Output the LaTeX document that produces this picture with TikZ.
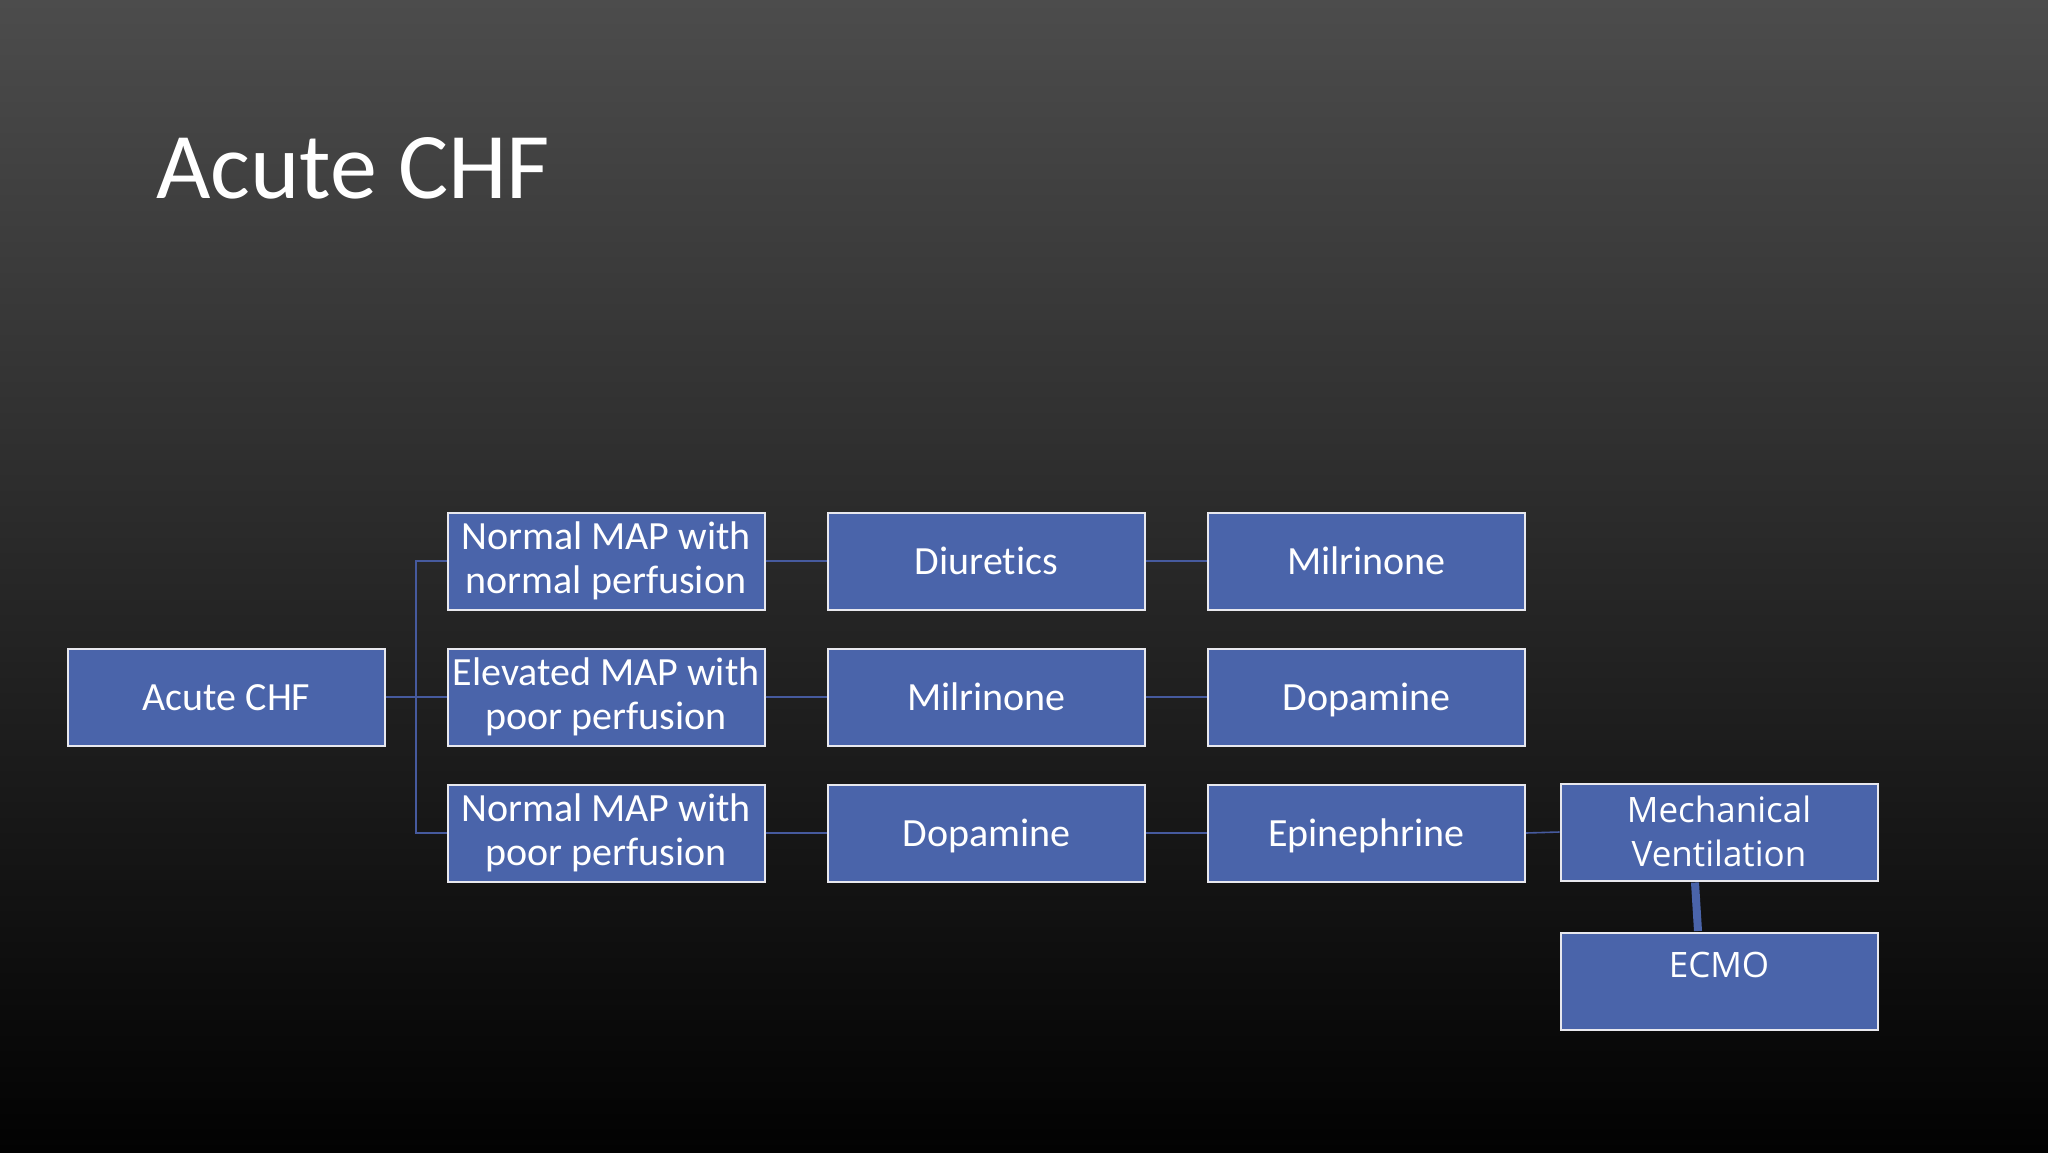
\documentclass[tikz,border=0pt]{standalone}
\usepackage{fontspec}
\setmainfont{Carlito}[RawFeature=-liga]
\newfontfamily\segoe{Open Sans}
\begin{document}
\begin{tikzpicture}[x=1pt,y=-1pt,
  boxfill/.style={fill={rgb,255:red,74;green,100;blue,170},
    draw={rgb,255:red,232;green,232;blue,238}, line width=2pt,
    minimum width=317pt, minimum height=97pt, inner sep=0pt,
    align=center, text=white, text height=26pt, text depth=0pt,
    font=\fontsize{40}{44}\selectfont},
  twoline/.style={text height=64pt, text depth=0pt},
  sboxfill/.style={boxfill, font=\segoe\fontsize{35}{44}\selectfont},
  conn/.style={draw={rgb,255:red,70;green,90;blue,158}, line width=1.6pt},
  thick conn/.style={draw={rgb,255:red,74;green,100;blue,170}, line width=8pt}
]
\useasboundingbox (0,0) rectangle (2048,1152);
\shade[top color={rgb,255:red,76;green,76;blue,76}, middle color={rgb,255:red,32;green,32;blue,32}, bottom color={rgb,255:red,2;green,2;blue,2}] (0,0) rectangle (2048,1152);

\node[anchor=base west, text=white, font=\fontsize{94}{100}\selectfont, inner sep=0pt] (title) at (156,198) {Acute CHF};

\node[boxfill] (a) at (226.5,697) {Acute CHF};

\node[boxfill, twoline] (b1) at (606,561) {Normal MAP with\\normal perfusion};
\node[boxfill, twoline] (b2) at (606,697) {Elevated MAP with\\poor perfusion};
\node[boxfill, twoline] (b3) at (606,833) {Normal MAP with\\poor perfusion};

\node[boxfill] (c1) at (986.5,561) {Diuretics};
\node[boxfill] (c2) at (986.5,697) {Milrinone};
\node[boxfill] (c3) at (986.5,833) {Dopamine};

\node[boxfill] (d1) at (1366.5,561) {Milrinone};
\node[boxfill] (d2) at (1366.5,697) {Dopamine};
\node[boxfill] (d3) at (1366.5,833) {Epinephrine};

\node[sboxfill, text height=68pt, text depth=0pt] (e3) at (1719,832) {Mechanical\\Ventilation};
\node[sboxfill, text height=24pt, text depth=33pt] (f3) at (1719,981.5) {ECMO};

\coordinate (trunk) at (416,697);
\draw[conn] (a.east) -- (trunk);
\draw[conn] (trunk) |- (b1.west);
\draw[conn] (trunk) -- (b2.west);
\draw[conn] (trunk) |- (b3.west);

\draw[conn] (b1.east) -- (c1.west);
\draw[conn] (b2.east) -- (c2.west);
\draw[conn] (b3.east) -- (c3.west);
\draw[conn] (c1.east) -- (d1.west);
\draw[conn] (c2.east) -- (d2.west);
\draw[conn] (c3.east) -- (d3.west);
\draw[conn] (d3.east) -- (e3.west);

\draw[thick conn] ([xshift=-24pt,yshift=-1pt]e3.south) -- ([xshift=-21pt,yshift=1pt]f3.north);
\end{tikzpicture}
\end{document}
